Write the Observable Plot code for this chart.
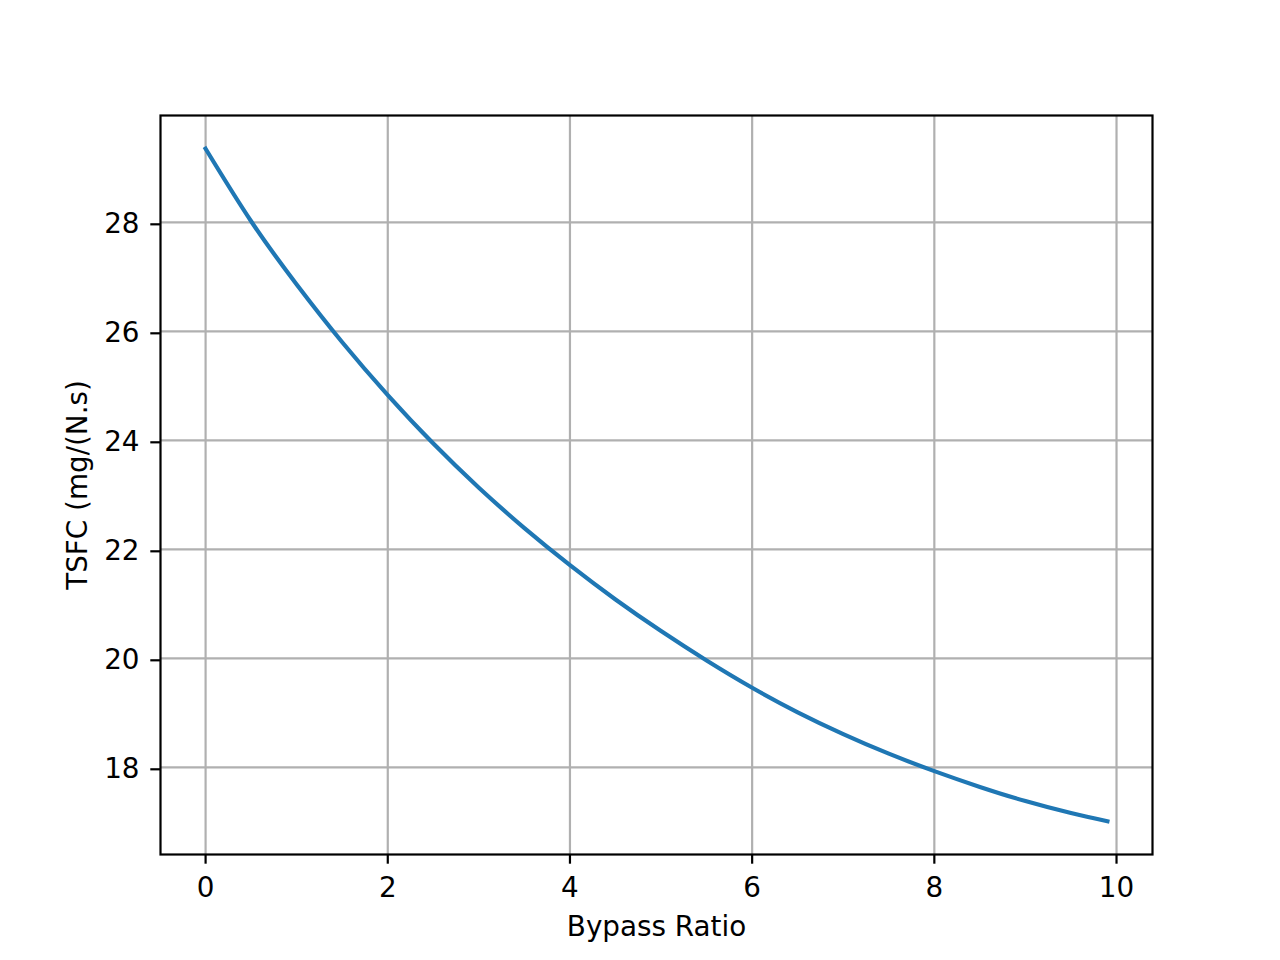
<!DOCTYPE html>
<html>
<head>
<meta charset="utf-8">
<script src="https://cdn.jsdelivr.net/npm/d3@7"></script>
<script src="https://cdn.jsdelivr.net/npm/@observablehq/plot@0.6"></script>
<style>
  html, body { margin: 0; padding: 0; background: #ffffff; }
  #chart { width: 1280px; height: 960px; }
</style>
</head>
<body>
<div id="chart"></div>
<script>
const bypassRatio = [0, 0.5, 1, 1.5, 2, 2.5, 3, 3.5, 4, 4.5, 5, 5.5, 6, 6.5, 7, 7.5, 8, 8.5, 9, 9.5, 9.9];
const tsfc = [29.35, 28.02, 26.86, 25.80, 24.83, 23.94, 23.13, 22.39, 21.71, 21.08, 20.50, 19.96, 19.46, 19.01, 18.61, 18.25, 17.93, 17.64, 17.38, 17.16, 17.01];
const xTicks = [0, 2, 4, 6, 8, 10];
const yTicks = [18, 20, 22, 24, 26, 28];
const xLabel = "Bypass Ratio";
const yLabel = "TSFC (mg/(N.s)";

const data = bypassRatio.map((x, i) => ({x, y: tsfc[i]}));
const font = "DejaVu Sans";
const fs = 27.8;

const chart = Plot.plot({
  width: 1280,
  height: 960,
  marginLeft: 160,
  marginRight: 128,
  marginTop: 115,
  marginBottom: 106,
  style: {fontFamily: font, fontSize: fs + "px", background: "#ffffff", color: "#000000"},
  x: {domain: [-0.495, 10.395]},
  y: {domain: [16.40, 29.96]},
  marks: [
    Plot.gridX(xTicks, {stroke: "#b0b0b0", strokeOpacity: 1, strokeWidth: 2.2}),
    Plot.gridY(yTicks, {stroke: "#b0b0b0", strokeOpacity: 1, strokeWidth: 2.2}),
    Plot.line(data, {x: "x", y: "y", stroke: "#1f77b4", strokeWidth: 4.2, curve: "natural", strokeLinecap: "square"}),
    Plot.frame({stroke: "#000000", strokeWidth: 2.2}),
    Plot.axisX(xTicks, {tickSize: 9.7, tickPadding: 13, strokeWidth: 2.2, fontSize: fs, label: null, tickFormat: d => String(d)}),
    Plot.axisY(yTicks, {tickSize: 9.7, tickPadding: 11.3, strokeWidth: 2.2, fontSize: fs, label: null, dy: 2, tickFormat: d => String(d)}),
    Plot.text([xLabel], {frameAnchor: "bottom", dy: 81, lineAnchor: "bottom", fontSize: fs, fill: "#000000"}),
    Plot.text([yLabel], {frameAnchor: "left", dx: -73.3, rotate: -90, textAnchor: "middle", lineAnchor: "bottom", fontSize: fs, fill: "#000000"})
  ]
});
document.getElementById("chart").appendChild(chart);
</script>
</body>
</html>
